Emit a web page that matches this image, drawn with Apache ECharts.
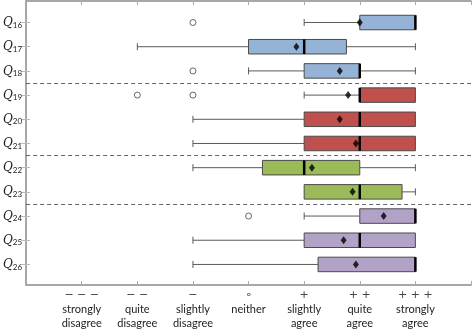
<!DOCTYPE html>
<html>
<head>
<meta charset="utf-8">
<script src="https://cdn.jsdelivr.net/npm/echarts@6/dist/echarts.min.js"></script>
<style>html,body{margin:0;padding:0;background:#fff;}#c{width:474px;height:330px;}</style>
</head>
<body>
<div id="c"></div>
<script>
// ---- data ----
const questions = ['16','17','18','19','20','21','22','23','24','25','26'];
const groupOf   = [0,0,0,1,1,1,2,2,3,3,3];
const whiskerLow  = [5, 2,    4, 5, 3, 3, 3,    5,    5, 3, 3];
const q1          = [6, 4,    5, 6, 5, 5, 4.25, 5,    6, 5, 5.25];
const median      = [7, 5,    6, 6, 6, 6, 5,    6,    7, 6, 7];
const q3          = [7, 5.76, 6, 7, 7, 7, 6,    6.76, 7, 7, 7];
const whiskerHigh = [7, 7,    7, 7, 7, 7, 7,    7,    7, 7, 7];
const means       = [6, 4.86, 5.64, 5.79, 5.64, 5.93, 5.14, 5.87, 6.43, 5.71, 5.93];
// outliers: [value, question position (1-based)]
const outliers = [[3,1],[3,3],[2,4],[3,4],[4,9]];
const separators = [3.5, 6.5, 8.5];
const tickSymbols = ['', '− − −', '− −', '−', '∘', '+', '+ +', '+ + +', ''];
const tickWords = ['', 'strongly\ndisagree', 'quite\ndisagree', 'slightly\ndisagree', 'neither', 'slightly\nagree', 'quite\nagree', 'strongly\nagree', ''];
const groupColors = ['#95b3d7', '#c0504d', '#9bbb59', '#b3a2c7'];

const boxData = questions.map((q, i) => [i + 1, whiskerLow[i], q1[i], median[i], q3[i], whiskerHigh[i], groupOf[i]]);
const meanData = means.map((m, i) => [m, i + 1]);

const FONT = 'Lato';
const axisGray = '#8a8a8a';
const posVals = questions.map((q, i) => i + 1);

const chart = echarts.init(document.getElementById('c'), null, {renderer: 'canvas'});

function renderBox(params, api) {
  const y = api.value(0);
  const wl = api.value(1), a = api.value(2), m = api.value(3), b = api.value(4), wh = api.value(5);
  const g = api.value(6);
  const band = api.size([0, 1])[1];
  const hh = band * 0.3;
  const ch = 3.5;
  const pWL = api.coord([wl, y]), pA = api.coord([a, y]), pM = api.coord([m, y]), pB = api.coord([b, y]), pWH = api.coord([wh, y]);
  const cy = pA[1];
  const wStyle = {stroke: '#5a5a5a', lineWidth: 1};
  const children = [];
  if (wl < a) {
    children.push({type: 'line', shape: {x1: pWL[0], y1: cy, x2: pA[0], y2: cy}, style: wStyle});
    children.push({type: 'line', shape: {x1: pWL[0], y1: cy - ch, x2: pWL[0], y2: cy + ch}, style: wStyle});
  }
  if (wh > b) {
    children.push({type: 'line', shape: {x1: pB[0], y1: cy, x2: pWH[0], y2: cy}, style: wStyle});
    children.push({type: 'line', shape: {x1: pWH[0], y1: cy - ch, x2: pWH[0], y2: cy + ch}, style: wStyle});
  }
  children.push({type: 'rect', shape: {x: pA[0], y: cy - hh, width: pB[0] - pA[0], height: 2 * hh},
    style: {fill: groupColors[g], stroke: '#4a4a4a', lineWidth: 1}});
  children.push({type: 'line', shape: {x1: pM[0], y1: cy - hh, x2: pM[0], y2: cy + hh},
    style: {stroke: '#000', lineWidth: 2.5}});
  return {type: 'group', children: children};
}

const xBase = {
  type: 'value', min: 0, max: 8, interval: 1,
  splitLine: {show: false},
  axisLine: {show: true, lineStyle: {color: axisGray, width: 1.5}},
  axisTick: {show: true, inside: true, length: 4, lineStyle: {color: '#aaa'}}
};
const yBase = {
  type: 'value', inverse: true, min: 0.11, max: 11.85,
  splitLine: {show: false}
};

chart.setOption({
  animation: false,
  backgroundColor: '#fff',
  grid: {left: 22, top: 1, width: 451.4, height: 289, containLabel: false},
  xAxis: [
    Object.assign({}, xBase, {
      position: 'bottom',
      axisLabel: {
        show: true, margin: 2, fontFamily: FONT, color: '#222', fontSize: 11, lineHeight: 13.5,
        formatter: function (v) {
          const i = Math.round(v);
          if (!tickWords[i]) return '';
          return '{s|' + tickSymbols[i] + '}\n' + tickWords[i];
        },
        rich: {s: {fontFamily: 'DejaVu Sans', fontSize: 11, lineHeight: 16, color: '#444'}}
      }
    }),
    Object.assign({}, xBase, {position: 'top', axisLabel: {show: false}})
  ],
  yAxis: [
    Object.assign({}, yBase, {
      position: 'left',
      axisLine: {show: true, lineStyle: {color: axisGray, width: 1.5}},
      axisTick: {show: true, inside: true, length: 4, customValues: posVals, lineStyle: {color: '#bbb'}},
      axisLabel: {
        show: true, margin: 4, customValues: posVals,
        formatter: function (v) {
          const i = Math.round(v) - 1;
          return '{q|Q}{n|' + questions[i] + '}';
        },
        rich: {
          q: {fontFamily: 'DejaVu Serif', fontStyle: 'italic', fontSize: 12, color: '#222', verticalAlign: 'bottom'},
          n: {fontFamily: FONT, fontSize: 8, color: '#222', padding: [5, 0, 0, 0]}
        }
      }
    }),
    Object.assign({}, yBase, {
      position: 'right',
      axisLine: {show: false},
      axisTick: {show: true, inside: true, length: 5, customValues: posVals, lineStyle: {color: '#bbb'}},
      axisLabel: {show: false}
    })
  ],
  series: [
    {
      type: 'custom', xAxisIndex: 0, yAxisIndex: 0,
      renderItem: renderBox,
      encode: {y: 0, x: [1, 2, 3, 4, 5]},
      data: boxData,
      markLine: {
        silent: true, symbol: 'none', label: {show: false},
        lineStyle: {color: '#666', type: [4, 3], width: 1},
        data: separators.map(s => ({yAxis: s}))
      },
      z: 2
    },
    {
      type: 'scatter', xAxisIndex: 0, yAxisIndex: 0,
      data: outliers, symbol: 'circle', symbolSize: 6,
      itemStyle: {color: '#fff', borderColor: '#444', borderWidth: 1}, z: 3
    },
    {
      type: 'scatter', xAxisIndex: 0, yAxisIndex: 0,
      data: meanData, symbol: 'diamond', symbolSize: [6, 8],
      itemStyle: {color: '#000'}, z: 4
    }
  ]
});
</script>
</body>
</html>
